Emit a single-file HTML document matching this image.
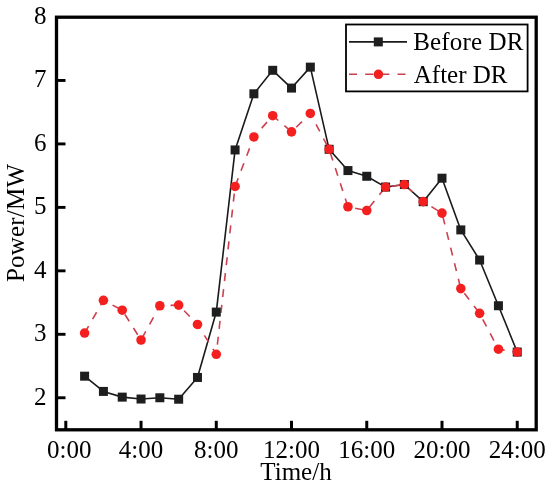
<!DOCTYPE html>
<html><head><meta charset="utf-8"><style>html,body{margin:0;padding:0;background:#fff;width:550px;height:489px;overflow:hidden}svg{display:block}</style></head>
<body><svg width="550" height="489" viewBox="0 0 550 489"><rect x="0" y="0" width="550" height="489" fill="#fff"/>
<polyline points="84.61,376.18 103.42,391.41 122.23,397.13 141.04,399.03 159.85,397.76 178.66,399.22 197.47,377.45 216.28,312.09 235.09,149.95 253.90,93.79 272.71,70.31 291.52,88.08 310.33,67.13 329.14,149.31 347.95,170.57 366.76,176.28 385.57,187.07 404.38,184.53 423.19,201.67 442.00,178.19 460.81,229.91 479.62,260.05 498.43,305.74 517.24,352.07" fill="none" stroke="#1a1a1a" stroke-width="1.6" stroke-linejoin="round"/>
<polyline points="84.61,333.03 103.42,300.35 122.23,310.19 141.04,340.01 159.85,305.74 178.66,305.11 197.47,324.46 216.28,354.29 235.09,186.44 253.90,136.94 272.71,115.68 291.52,131.86 310.33,113.46 329.14,149.31 347.95,206.75 366.76,210.55 385.57,187.07 404.38,184.53 423.19,201.67 442.00,213.09 460.81,288.61 479.62,313.36 498.43,349.21 517.24,352.07" fill="none" stroke="#cc4050" stroke-width="1.6" stroke-dasharray="8 8"/>
<rect x="80.11" y="371.68" width="9.0" height="9.0" fill="#1e1e1e"/>
<rect x="98.92" y="386.91" width="9.0" height="9.0" fill="#1e1e1e"/>
<rect x="117.73" y="392.63" width="9.0" height="9.0" fill="#1e1e1e"/>
<rect x="136.54" y="394.53" width="9.0" height="9.0" fill="#1e1e1e"/>
<rect x="155.35" y="393.26" width="9.0" height="9.0" fill="#1e1e1e"/>
<rect x="174.16" y="394.72" width="9.0" height="9.0" fill="#1e1e1e"/>
<rect x="192.97" y="372.95" width="9.0" height="9.0" fill="#1e1e1e"/>
<rect x="211.78" y="307.59" width="9.0" height="9.0" fill="#1e1e1e"/>
<rect x="230.59" y="145.45" width="9.0" height="9.0" fill="#1e1e1e"/>
<rect x="249.40" y="89.29" width="9.0" height="9.0" fill="#1e1e1e"/>
<rect x="268.21" y="65.81" width="9.0" height="9.0" fill="#1e1e1e"/>
<rect x="287.02" y="83.58" width="9.0" height="9.0" fill="#1e1e1e"/>
<rect x="305.83" y="62.63" width="9.0" height="9.0" fill="#1e1e1e"/>
<rect x="324.64" y="144.81" width="9.0" height="9.0" fill="#1e1e1e"/>
<rect x="343.45" y="166.07" width="9.0" height="9.0" fill="#1e1e1e"/>
<rect x="362.26" y="171.78" width="9.0" height="9.0" fill="#1e1e1e"/>
<rect x="381.07" y="182.57" width="9.0" height="9.0" fill="#1e1e1e"/>
<rect x="399.88" y="180.03" width="9.0" height="9.0" fill="#1e1e1e"/>
<rect x="418.69" y="197.17" width="9.0" height="9.0" fill="#1e1e1e"/>
<rect x="437.50" y="173.69" width="9.0" height="9.0" fill="#1e1e1e"/>
<rect x="456.31" y="225.41" width="9.0" height="9.0" fill="#1e1e1e"/>
<rect x="475.12" y="255.55" width="9.0" height="9.0" fill="#1e1e1e"/>
<rect x="493.93" y="301.24" width="9.0" height="9.0" fill="#1e1e1e"/>
<rect x="512.74" y="347.57" width="9.0" height="9.0" fill="#1e1e1e"/>
<circle cx="84.61" cy="333.03" r="4.8" fill="#f42020"/>
<circle cx="103.42" cy="300.35" r="4.8" fill="#f42020"/>
<circle cx="122.23" cy="310.19" r="4.8" fill="#f42020"/>
<circle cx="141.04" cy="340.01" r="4.8" fill="#f42020"/>
<circle cx="159.85" cy="305.74" r="4.8" fill="#f42020"/>
<circle cx="178.66" cy="305.11" r="4.8" fill="#f42020"/>
<circle cx="197.47" cy="324.46" r="4.8" fill="#f42020"/>
<circle cx="216.28" cy="354.29" r="4.8" fill="#f42020"/>
<circle cx="235.09" cy="186.44" r="4.8" fill="#f42020"/>
<circle cx="253.90" cy="136.94" r="4.8" fill="#f42020"/>
<circle cx="272.71" cy="115.68" r="4.8" fill="#f42020"/>
<circle cx="291.52" cy="131.86" r="4.8" fill="#f42020"/>
<circle cx="310.33" cy="113.46" r="4.8" fill="#f42020"/>
<circle cx="329.14" cy="149.31" r="4.8" fill="#f42020"/>
<circle cx="347.95" cy="206.75" r="4.8" fill="#f42020"/>
<circle cx="366.76" cy="210.55" r="4.8" fill="#f42020"/>
<circle cx="385.57" cy="187.07" r="4.8" fill="#f42020"/>
<circle cx="404.38" cy="184.53" r="4.8" fill="#f42020"/>
<circle cx="423.19" cy="201.67" r="4.8" fill="#f42020"/>
<circle cx="442.00" cy="213.09" r="4.8" fill="#f42020"/>
<circle cx="460.81" cy="288.61" r="4.8" fill="#f42020"/>
<circle cx="479.62" cy="313.36" r="4.8" fill="#f42020"/>
<circle cx="498.43" cy="349.21" r="4.8" fill="#f42020"/>
<circle cx="517.24" cy="352.07" r="4.8" fill="#f42020"/>
<line x1="56.5" y1="397.76" x2="65.5" y2="397.76" stroke="#000" stroke-width="2.9"/>
<text x="46.5" y="404.66" text-anchor="end" style="font-family:'Liberation Serif','Times New Roman',serif;font-size:25px;fill:#000">2</text>
<line x1="56.5" y1="334.30" x2="65.5" y2="334.30" stroke="#000" stroke-width="2.9"/>
<text x="46.5" y="341.20" text-anchor="end" style="font-family:'Liberation Serif','Times New Roman',serif;font-size:25px;fill:#000">3</text>
<line x1="56.5" y1="270.84" x2="65.5" y2="270.84" stroke="#000" stroke-width="2.9"/>
<text x="46.5" y="277.74" text-anchor="end" style="font-family:'Liberation Serif','Times New Roman',serif;font-size:25px;fill:#000">4</text>
<line x1="56.5" y1="207.38" x2="65.5" y2="207.38" stroke="#000" stroke-width="2.9"/>
<text x="46.5" y="214.28" text-anchor="end" style="font-family:'Liberation Serif','Times New Roman',serif;font-size:25px;fill:#000">5</text>
<line x1="56.5" y1="143.92" x2="65.5" y2="143.92" stroke="#000" stroke-width="2.9"/>
<text x="46.5" y="150.82" text-anchor="end" style="font-family:'Liberation Serif','Times New Roman',serif;font-size:25px;fill:#000">6</text>
<line x1="56.5" y1="80.46" x2="65.5" y2="80.46" stroke="#000" stroke-width="2.9"/>
<text x="46.5" y="87.36" text-anchor="end" style="font-family:'Liberation Serif','Times New Roman',serif;font-size:25px;fill:#000">7</text>
<text x="46.5" y="23.90" text-anchor="end" style="font-family:'Liberation Serif','Times New Roman',serif;font-size:25px;fill:#000">8</text>
<line x1="65.80" y1="429.8" x2="65.80" y2="420.8" stroke="#000" stroke-width="3.0"/>
<text x="69.30" y="458" text-anchor="middle" style="font-family:'Liberation Serif','Times New Roman',serif;font-size:25px;fill:#000">0:00</text>
<line x1="141.04" y1="429.8" x2="141.04" y2="420.8" stroke="#000" stroke-width="3.0"/>
<text x="141.04" y="458" text-anchor="middle" style="font-family:'Liberation Serif','Times New Roman',serif;font-size:25px;fill:#000">4:00</text>
<line x1="216.28" y1="429.8" x2="216.28" y2="420.8" stroke="#000" stroke-width="3.0"/>
<text x="216.28" y="458" text-anchor="middle" style="font-family:'Liberation Serif','Times New Roman',serif;font-size:25px;fill:#000">8:00</text>
<line x1="291.52" y1="429.8" x2="291.52" y2="420.8" stroke="#000" stroke-width="3.0"/>
<text x="291.52" y="458" text-anchor="middle" style="font-family:'Liberation Serif','Times New Roman',serif;font-size:25px;fill:#000">12:00</text>
<line x1="366.76" y1="429.8" x2="366.76" y2="420.8" stroke="#000" stroke-width="3.0"/>
<text x="366.76" y="458" text-anchor="middle" style="font-family:'Liberation Serif','Times New Roman',serif;font-size:25px;fill:#000">16:00</text>
<line x1="442.00" y1="429.8" x2="442.00" y2="420.8" stroke="#000" stroke-width="3.0"/>
<text x="442.00" y="458" text-anchor="middle" style="font-family:'Liberation Serif','Times New Roman',serif;font-size:25px;fill:#000">20:00</text>
<line x1="517.24" y1="429.8" x2="517.24" y2="420.8" stroke="#000" stroke-width="3.0"/>
<text x="517.24" y="458" text-anchor="middle" style="font-family:'Liberation Serif','Times New Roman',serif;font-size:25px;fill:#000">24:00</text>
<rect x="56.5" y="17.2" width="479.70" height="412.60" fill="none" stroke="#000" stroke-width="3.3"/>
<text x="296" y="480" text-anchor="middle" style="font-family:'Liberation Serif','Times New Roman',serif;font-size:25px;fill:#000">Time/h</text>
<text transform="translate(23.5,222.9) rotate(-90)" x="0" y="0" text-anchor="middle" style="font-family:'Liberation Serif','Times New Roman',serif;font-size:25px;fill:#000;letter-spacing:0.2px">Power/MW</text>
<rect x="346" y="24.5" width="181.6" height="66.9" fill="#fff" stroke="#000" stroke-width="1.8"/>
<line x1="349" y1="41.9" x2="407" y2="41.9" stroke="#1a1a1a" stroke-width="1.6"/>
<rect x="373.8" y="37.4" width="9.0" height="9.0" fill="#1e1e1e"/>
<line x1="349" y1="74.3" x2="405.5" y2="74.3" stroke="#cc4050" stroke-width="1.6" stroke-dasharray="8 8.17"/>
<circle cx="378.4" cy="74.3" r="4.8" fill="#f42020"/>
<text x="413.3" y="50.4" style="font-family:'Liberation Serif','Times New Roman',serif;font-size:25px;fill:#000;letter-spacing:0.15px">Before DR</text>
<text x="413.8" y="82.6" style="font-family:'Liberation Serif','Times New Roman',serif;font-size:25px;fill:#000">After DR</text></svg></body></html>
